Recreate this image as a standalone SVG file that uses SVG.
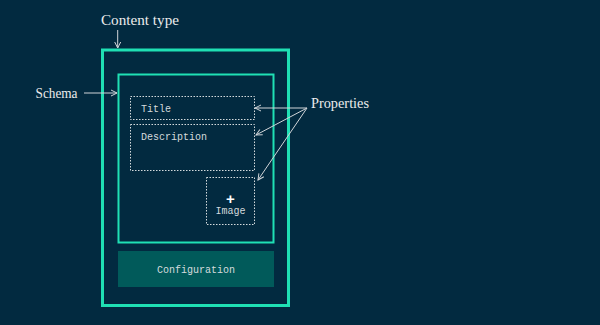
<svg xmlns="http://www.w3.org/2000/svg" width="600" height="325" viewBox="0 0 600 325">
<defs>
<style>
.lbl{font-family:"Liberation Serif","DejaVu Serif",serif;font-size:15px;fill:#ececec}
.mono{font-family:"Liberation Mono","DejaVu Sans Mono",monospace;font-size:10px;fill:#d4dadd}
.dot{fill:none;stroke:#d4dadd;stroke-width:1;stroke-dasharray:1.5 1.5}
.con{stroke:#d0d4d8;stroke-width:1;fill:none;marker-end:url(#ah)}
</style>
<marker id="ah" viewBox="0 0 8 8" refX="7" refY="4" markerWidth="8" markerHeight="8" markerUnits="userSpaceOnUse" orient="auto">
<path d="M1,1 L7,4 L1,7" fill="none" stroke="#d0d4d8" stroke-width="1"/>
</marker>
</defs>
<rect width="600" height="325" fill="#022a40"/>
<g id="content-type">
<rect x="102.5" y="50" width="186" height="255.5" fill="none" stroke="#1fe0b4" stroke-width="3"/>
<text class="lbl" x="101" y="25" textLength="78" lengthAdjust="spacingAndGlyphs">Content type</text>
</g>
<g id="schema">
<rect x="118.5" y="74.5" width="155" height="168" fill="none" stroke="#1fe0b4" stroke-width="2"/>
<text class="lbl" x="35.5" y="98" textLength="42" lengthAdjust="spacingAndGlyphs">Schema</text>
</g>
<g id="title">
<rect class="dot" x="130.5" y="96.5" width="124" height="23"/>
<text class="mono" x="141" y="112">Title</text>
</g>
<g id="description">
<rect class="dot" x="130.5" y="124.5" width="124" height="46"/>
<text class="mono" x="141" y="140">Description</text>
</g>
<g id="image">
<rect class="dot" x="206.5" y="177.5" width="48" height="47"/>
<text x="230.5" y="204" text-anchor="middle" style="font-family:'Liberation Sans',sans-serif;font-size:15px;font-weight:bold;fill:#ffffff">+</text>
<text class="mono" x="230.5" y="213.5" text-anchor="middle">Image</text>
</g>
<g id="configuration">
<rect x="118" y="251" width="156" height="36" fill="#015a5a"/>
<text class="mono" x="196" y="273" text-anchor="middle">Configuration</text>
</g>
<g id="properties">
<text class="lbl" x="311" y="108" textLength="58" lengthAdjust="spacingAndGlyphs">Properties</text>
</g>
<g id="connectors">
<line class="con" x1="117.7" y1="30" x2="117.7" y2="48"/>
<line class="con" x1="84" y1="93" x2="117" y2="93"/>
<line class="con" x1="307" y1="108" x2="255" y2="108"/>
<line class="con" x1="307" y1="108" x2="256" y2="135"/>
<line class="con" x1="307" y1="108" x2="258" y2="180"/>
</g>
</svg>
